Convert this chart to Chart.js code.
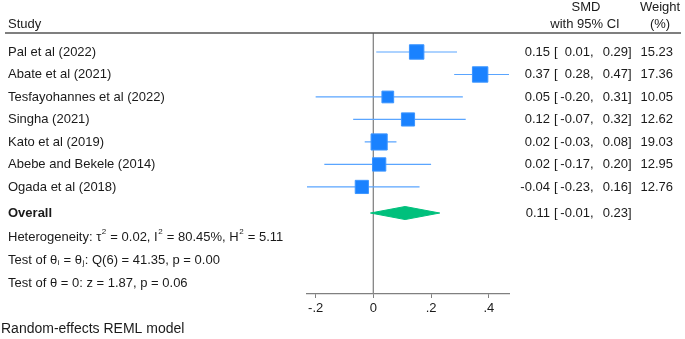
<!DOCTYPE html>
<html>
<head>
<meta charset="utf-8">
<script src="https://cdn.jsdelivr.net/npm/chart.js@4.4.1/dist/chart.umd.min.js"></script>
<style>
  html, body { margin: 0; padding: 0; background: #fff; }
</style>
</head>
<body>
<canvas id="forestChart" width="685" height="339"></canvas>
<script>
// study data
const studies = ['Pal et al (2022)', 'Abate et al (2021)', 'Tesfayohannes et al (2022)', 'Singha (2021)',
                 'Kato et al (2019)', 'Abebe and Bekele (2014)', 'Ogada et al (2018)'];
const smd = [0.15, 0.37, 0.05, 0.12, 0.02, 0.02, -0.04];
const ciLow = [0.01, 0.28, -0.20, -0.07, -0.03, -0.17, -0.23];
const ciHigh = [0.29, 0.47, 0.31, 0.32, 0.08, 0.20, 0.16];
const weights = [15.23, 17.36, 10.05, 12.62, 19.03, 12.95, 12.76];
const overall = [0.11, -0.01, 0.23]; // estimate, low, high
const xTicks = [-0.2, 0, 0.2, 0.4];
const xTickLabels = ['-.2', '0', '.2', '.4'];

const rows = studies.map((s, i) => i + 1);
const overallRow = 8.16;
const font = '"Liberation Sans", Arial, sans-serif';
const textColor = '#1a1a1a';

const ciDatasets = studies.map((s, i) => ({
    type: 'line',
    data: [{x: ciLow[i], y: rows[i]}, {x: ciHigh[i], y: rows[i]}],
    borderColor: '#5aa5ff',
    borderWidth: 1.2,
    pointRadius: 0,
    order: 3
}));

function fmt(v) { return v.toFixed(2); }

// draws text with small super/subscripts
function drawRich(ctx, x, y, parts) {
    ctx.textAlign = 'left';
    ctx.textBaseline = 'middle';
    parts.forEach(p => {
        if (p.sup || p.sub) {
            ctx.font = '8px ' + font;
            ctx.fillText(p.t, x + 0.5, y + (p.sup ? -5 : 3));
            x += ctx.measureText(p.t).width + 1;
        } else {
            ctx.font = '13px ' + font;
            ctx.fillText(p.t, x, y);
            x += ctx.measureText(p.t).width;
        }
    });
}

const textPlugin = {
    id: 'forestText',
    afterDraw(chart) {
        const ctx = chart.ctx;
        const yScale = chart.scales.y;
        ctx.save();
        ctx.fillStyle = textColor;

        // header rule
        ctx.strokeStyle = '#555';
        ctx.lineWidth = 1.5;
        ctx.beginPath();
        ctx.moveTo(5, 33);
        ctx.lineTo(681, 33);
        ctx.stroke();

        ctx.font = '13px ' + font;
        ctx.textBaseline = 'middle';
        ctx.textAlign = 'left';
        ctx.fillText('Study', 8, 24);
        ctx.textAlign = 'center';
        ctx.fillText('SMD', 586, 7);
        ctx.fillText('with 95% CI', 585, 24);
        ctx.fillText('Weight', 660, 7);
        ctx.fillText('(%)', 660, 24);

        const drawCI = (y, est, lo, hi) => {
            ctx.font = '13px ' + font;
            ctx.textAlign = 'right';
            ctx.fillText(fmt(est), 550, y);
            ctx.fillText(fmt(lo), 590, y);
            ctx.fillText(fmt(hi), 628, y);
            ctx.textAlign = 'left';
            ctx.fillText('[', 554, y);
            ctx.fillText(',', 590, y);
            ctx.fillText(']', 628, y);
        };

        studies.forEach((s, i) => {
            const y = yScale.getPixelForValue(rows[i]);
            ctx.font = '13px ' + font;
            ctx.textAlign = 'left';
            ctx.fillText(s, 8, y);
            drawCI(y, smd[i], ciLow[i], ciHigh[i]);
            ctx.textAlign = 'right';
            ctx.fillText(weights[i].toFixed(2), 673, y);
        });

        const yo = yScale.getPixelForValue(overallRow);
        ctx.font = 'bold 13px ' + font;
        ctx.textAlign = 'left';
        ctx.fillText('Overall', 8, yo);
        drawCI(yo, overall[0], overall[1], overall[2]);

        drawRich(ctx, 8, 237, [
            {t: 'Heterogeneity: τ'}, {t: '2', sup: true}, {t: ' = 0.02, I'}, {t: '2', sup: true},
            {t: ' = 80.45%, H'}, {t: '2', sup: true}, {t: ' = 5.11'}
        ]);
        drawRich(ctx, 8, 260, [
            {t: 'Test of θ'}, {t: 'i', sub: true}, {t: ' = θ'}, {t: 'j', sub: true},
            {t: ': Q(6) = 41.35, p = 0.00'}
        ]);
        drawRich(ctx, 8, 283, [{t: 'Test of θ = 0: z = 1.87, p = 0.06'}]);

        ctx.font = '14px ' + font;
        ctx.textAlign = 'left';
        ctx.fillText('Random-effects REML model', 1, 329);
        ctx.restore();
    }
};

const ctx = document.getElementById('forestChart').getContext('2d');
const forestChart = new Chart(ctx, {
    type: 'scatter',
    data: {
        datasets: [
            {
                type: 'scatter',
                data: smd.map((v, i) => ({x: v, y: rows[i]})),
                pointStyle: 'rect',
                pointRadius: weights.map(w => Math.sqrt(w) * 3.7 / Math.SQRT2),
                backgroundColor: '#1a82ff',
                borderColor: '#3d96ff',
                borderWidth: 1,
                order: 1
            },
            {
                type: 'line',
                data: [
                    {x: overall[1], y: overallRow},
                    {x: overall[0], y: overallRow - 0.29},
                    {x: overall[2], y: overallRow},
                    {x: overall[0], y: overallRow + 0.29},
                    {x: overall[1], y: overallRow}
                ],
                borderColor: '#00c07c',
                backgroundColor: '#00c07c',
                borderWidth: 1,
                pointRadius: 0,
                fill: 'shape',
                tension: 0,
                order: 2
            },
            ...ciDatasets,
            {
                type: 'line',
                data: [{x: 0, y: 0}, {x: 0, y: 12}],
                borderColor: '#8a8a8a',
                borderWidth: 1,
                pointRadius: 0,
                order: 4
            }
        ]
    },
    options: {
        responsive: false,
        animation: false,
        devicePixelRatio: 1,
        layout: {
            padding: {left: 307, right: 176, top: 33, bottom: 15}
        },
        scales: {
            x: {
                type: 'linear',
                min: -0.23,
                max: 0.47,
                afterBuildTicks: (scale) => { scale.ticks = xTicks.map(v => ({value: v})); },
                afterFit: (scale) => { scale.height = 30; },
                ticks: {
                    callback: (value, index) => xTickLabels[index],
                    color: textColor,
                    font: {family: font, size: 13},
                    padding: 3,
                    maxRotation: 0,
                    autoSkip: false
                },
                grid: {drawOnChartArea: false, tickLength: 4, color: '#808080'},
                border: {color: '#808080', width: 1.2}
            },
            y: {
                type: 'linear',
                display: false,
                reverse: true,
                min: 0.156,
                max: 11.76
            }
        },
        plugins: {
            legend: {display: false},
            tooltip: {enabled: false}
        }
    },
    plugins: [textPlugin]
});
</script>
</body>
</html>
